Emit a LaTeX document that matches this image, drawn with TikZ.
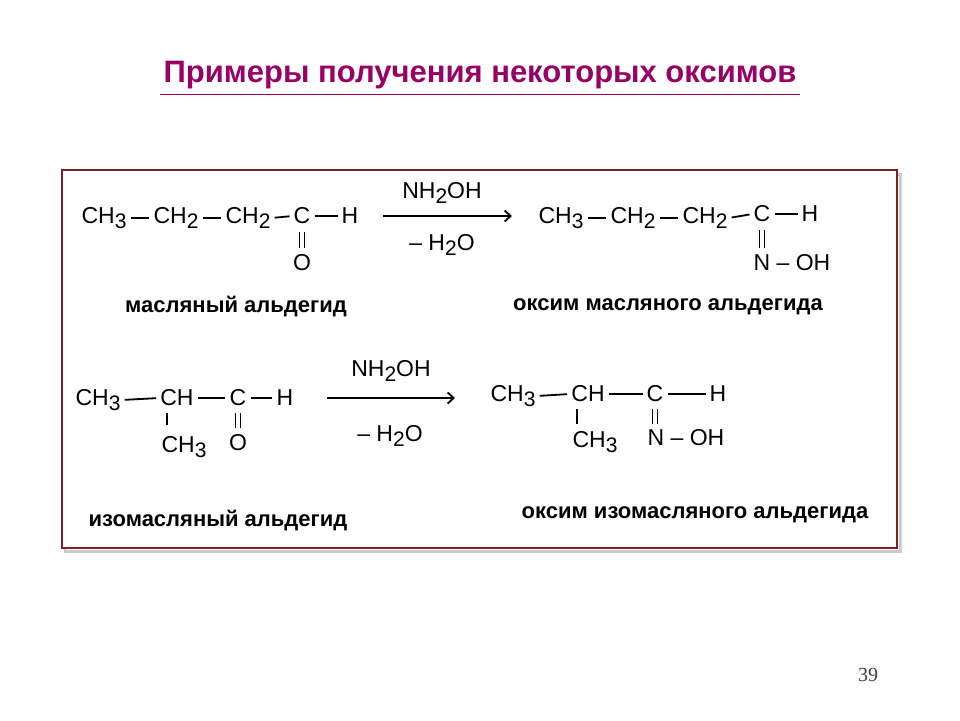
\documentclass[tikz,border=0pt]{standalone}
\usepackage{fontspec}
\setmainfont{Liberation Sans}
\newfontfamily\pgnum{Liberation Serif}
\usetikzlibrary{arrows.meta}
\definecolor{titlec}{RGB}{153,0,102}
\definecolor{framec}{RGB}{128,32,32}
\newcommand{\sub}[1]{\raisebox{-0.35ex}{\fontsize{21}{21}\selectfont #1}}
\begin{document}
\begin{tikzpicture}[x=1pt,y=-1pt,
  chem/.style={inner sep=1pt,font=\fontsize{23}{24}\selectfont},
  lbl/.style={inner sep=0pt,font=\fontsize{22}{23}\selectfont\bfseries},
  bond/.style={line width=1.8pt,shorten >=3pt,shorten <=3pt},
  rxn/.style={line width=1.8pt,-{Straight Barb[length=6pt,width=11pt,line width=1.8pt]}}]
\useasboundingbox (0,0) rectangle (960,720);
\fill[white] (0,0) rectangle (960,720);
\node[font=\fontsize{31}{32}\selectfont\bfseries,text=titlec] (title) at (480,75) {Примеры получения некоторых оксимов};
\draw[line width=1.5pt,titlec] ([yshift=-2pt]title.south west) -- ([yshift=-2pt]title.south east);
\draw[line width=3pt,color=black!20] (65,174) rectangle (900,551);
\draw[line width=2.5pt,framec,fill=white] (62,170) rectangle (897,548);
% row 1 reactant
\node[chem] (a1) at (104,218) {CH\sub{3}};
\node[chem] (a2) at (176,218) {CH\sub{2}};
\node[chem] (a3) at (248,218) {CH\sub{2}};
\node[chem] (a4) at (302,216) {C};
\node[chem] (a5) at (350,216) {H};
\node[chem] (a6) at (302,263) {O};
\draw[bond] (a1.east) -- (a2.west);
\draw[bond] (a2.east) -- (a3.west);
\draw[bond] (a3.east) -- (a4.west);
\draw[bond] (a4.east) -- (a5.west);
\draw[line width=1.5pt] (299.5,232) -- (299.5,248);
\draw[line width=1.5pt] (304.5,232) -- (304.5,248);
\coordinate (r1s) at (383,216); \coordinate (r1e) at (512,216);
\draw[rxn] (r1s) -- (r1e);
\node[chem] (r1a) at (442,193) {NH\sub{2}OH};
\node[chem] (r1b) at (442,245) {– H\sub{2}O};
% row 1 product
\node[chem] (b1) at (561,218) {CH\sub{3}};
\node[chem] (b2) at (633,218) {CH\sub{2}};
\node[chem] (b3) at (705,218) {CH\sub{2}};
\node[chem] (b4) at (762,214) {C};
\node[chem] (b5) at (810,214) {H};
\node[chem] (b6) at (792,263) {N – OH};
\draw[bond] (b1.east) -- (b2.west);
\draw[bond] (b2.east) -- (b3.west);
\draw[bond] (b3.east) -- (b4.west);
\draw[bond] (b4.east) -- (b5.west);
\draw[line width=1.5pt] (759.5,230) -- (759.5,248);
\draw[line width=1.5pt] (764.5,230) -- (764.5,248);
\node[lbl] (l1) at (236,307) {масляный альдегид};
\node[lbl] (l2) at (668,307) {оксим масляного альдегида};
% row 2 reactant
\node[chem] (c1) at (98,400) {CH\sub{3}};
\node[chem] (c2) at (177,398) {CH};
\node[chem] (c3) at (238,398) {C};
\node[chem] (c4) at (285,398) {H};
\node[chem] (c5) at (184,447) {CH\sub{3}};
\node[chem] (c6) at (238,443) {O};
\draw[bond] (c1.east) -- (c2.west);
\draw[bond] (c2.east) -- (c3.west);
\draw[bond] (c3.east) -- (c4.west);
\draw[line width=2pt] (167,413) -- (167,425);
\draw[line width=1.5pt] (235.5,413) -- (235.5,428);
\draw[line width=1.5pt] (240.5,413) -- (240.5,428);
\coordinate (r2s) at (327,398); \coordinate (r2e) at (455,398);
\draw[rxn] (r2s) -- (r2e);
\node[chem] (r2a) at (391,371) {NH\sub{2}OH};
\node[chem] (r2b) at (390,436) {– H\sub{2}O};
% row 2 product
\node[chem] (d1) at (513,396) {CH\sub{3}};
\node[chem] (d2) at (588,394) {CH};
\node[chem] (d3) at (655,394) {C};
\node[chem] (d4) at (718,394) {H};
\node[chem] (d5) at (595,442) {CH\sub{3}};
\node[chem] (d6) at (686,438) {N – OH};
\draw[bond] (d1.east) -- (d2.west);
\draw[bond] (d2.east) -- (d3.west);
\draw[bond] (d3.east) -- (d4.west);
\draw[line width=2pt] (577,409) -- (577,424);
\draw[line width=1.5pt] (652.5,409) -- (652.5,424);
\draw[line width=1.5pt] (657.5,409) -- (657.5,424);
\node[lbl] (l3) at (218,520) {изомасляный альдегид};
\node[lbl] (l4) at (695,515) {оксим изомасляного альдегида};
\node[font=\pgnum\fontsize{20}{21}\selectfont,text=black!75] (pg) at (868,675) {39};
\end{tikzpicture}
\end{document}
